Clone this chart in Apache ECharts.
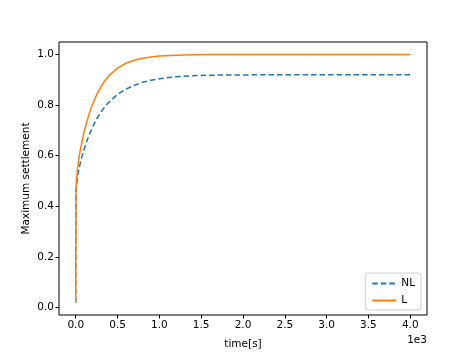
<!DOCTYPE html>
<html>
<head>
<meta charset="utf-8">
<script src="https://cdn.jsdelivr.net/npm/echarts@6/dist/echarts.min.js"></script>
<style>html,body{margin:0;padding:0;background:#fff}#c{width:474px;height:355px}</style>
</head>
<body>
<div id="c"></div>
<script>
const times = [0, 2, 5, 10, 20, 35, 50, 75, 100, 130, 160, 200, 250, 300, 350, 400, 500, 600, 700, 800, 900, 1000, 1200, 1400, 1600, 2000, 2500, 3000, 3500, 4000];
const nlValues = [0.02, 0.449, 0.466, 0.485, 0.512, 0.541, 0.565, 0.597, 0.625, 0.655, 0.682, 0.712, 0.745, 0.772, 0.794, 0.812, 0.842, 0.863, 0.878, 0.890, 0.898, 0.904, 0.912, 0.916, 0.918, 0.919, 0.92, 0.92, 0.92, 0.92];
const lValues = [0.02, 0.459, 0.481, 0.507, 0.543, 0.582, 0.614, 0.657, 0.694, 0.732, 0.765, 0.802, 0.841, 0.872, 0.897, 0.917, 0.946, 0.965, 0.977, 0.985, 0.990, 0.994, 0.997, 0.999, 0.9995, 1.0, 1.0, 1.0, 1.0, 1.0];
const xTicks = [0, 500, 1000, 1500, 2000, 2500, 3000, 3500, 4000];
const yTicks = [0, 0.2, 0.4, 0.6, 0.8, 1.0];
const seriesNames = ['NL', 'L'];

const font = 'DejaVu Sans';
const fs = 10.5;
const chart = echarts.init(document.getElementById('c'));
chart.setOption({
  animation: false,
  backgroundColor: '#fff',
  textStyle: {fontFamily: font},
  grid: {left: 59, right: 47, top: 42, bottom: 40, show: true, borderColor: '#000', borderWidth: 1, containLabel: false},
  xAxis: {
    type: 'value', min: -200, max: 4200,
    axisLine: {show: false, onZero: false},
    splitLine: {show: false},
    axisTick: {show: true, customValues: xTicks, length: 3.5, lineStyle: {color: '#000'}},
    axisLabel: {customValues: xTicks, color: '#000', fontSize: fs, margin: 5, fontFamily: font,
      formatter: v => (v / 1000).toFixed(1)},
    name: 'time[s]', nameLocation: 'middle', nameGap: 24, nameMoveOverlap: false,
    nameTextStyle: {color: '#000', fontSize: fs, fontFamily: font}
  },
  yAxis: {
    type: 'value', min: -0.029, max: 1.049,
    axisLine: {show: false, onZero: false},
    splitLine: {show: false},
    axisTick: {show: true, customValues: yTicks, length: 3.5, lineStyle: {color: '#000'}},
    axisLabel: {customValues: yTicks, color: '#000', fontSize: fs, margin: 5, fontFamily: font,
      formatter: v => v.toFixed(1)},
    name: 'Maximum settlement', nameLocation: 'middle', nameGap: 27, nameMoveOverlap: false,
    nameTextStyle: {color: '#000', fontSize: fs, fontFamily: font}
  },
  legend: {
    orient: 'vertical', right: 53, bottom: 45,
    data: seriesNames,
    backgroundColor: 'rgba(255,255,255,0.8)', borderColor: '#d0d0d0', borderWidth: 1, borderRadius: 3,
    padding: [5, 6, 4, 6], itemGap: 6, itemWidth: 24, itemHeight: 8,
    itemStyle: {opacity: 0},
    textStyle: {color: '#000', fontSize: fs, fontFamily: font}
  },
  graphic: [{
    type: 'text', right: 47, top: 335,
    style: {text: '1e3', fill: '#000', fontSize: fs, fontFamily: font}
  }],
  series: [
    {name: seriesNames[0], type: 'line', showSymbol: false, symbol: 'none',
      data: times.map((t, i) => [t, nlValues[i]]),
      lineStyle: {color: '#1f77b4', width: 1.5, type: [5.5, 3]}, itemStyle: {color: '#1f77b4'}},
    {name: seriesNames[1], type: 'line', showSymbol: false, symbol: 'none',
      data: times.map((t, i) => [t, lValues[i]]),
      lineStyle: {color: '#ff7f0e', width: 1.5}, itemStyle: {color: '#ff7f0e'}}
  ]
});
</script>
</body>
</html>
